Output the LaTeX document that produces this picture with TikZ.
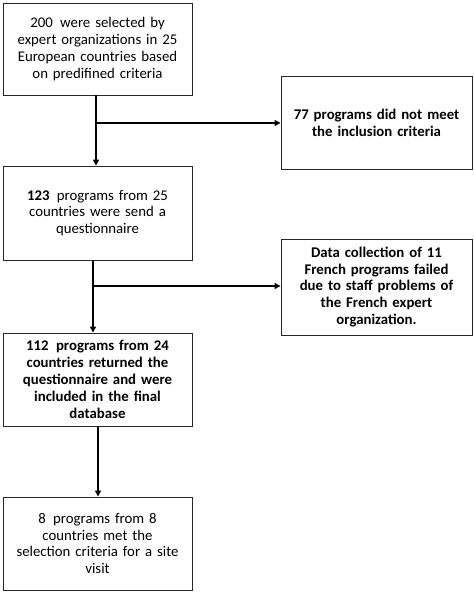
\documentclass[tikz,border=0pt]{standalone}
\usepackage{fontspec}
\setmainfont{Carlito}
\usetikzlibrary{arrows.meta}
\begin{document}
\begin{tikzpicture}[x=1pt,y=-1pt,
  box/.style={draw=black!85, line width=0.9pt, rectangle, align=center,
    minimum width=189pt, text width=187pt, inner sep=0pt,
    font=\fontsize{14.8}{16.8}\selectfont},
  sidebox/.style={box, minimum width=191pt},
  flow/.style={line width=1.4pt, -{Triangle[length=6pt,width=6pt]}}]
\useasboundingbox (0,0) rectangle (474,592);
\node[box, minimum height=92pt] (b1) at (97.5,49) {200\, were selected by\\expert organizations in 25\\European countries based\\on predifined criteria};
\node[sidebox, minimum height=93pt, font=\fontsize{14.8}{16.8}\selectfont\bfseries] (b77) at (376.5,122.5) {77 programs did not meet\\the inclusion criteria};
\node[box, minimum height=94pt] (b123) at (97.5,213) {\textbf{123}\, programs from 25\\countries were send a\\questionnaire};
\node[sidebox, minimum height=96pt, font=\fontsize{14.8}{16.8}\selectfont\bfseries] (bdc) at (376.5,287) {Data collection of 11\\French programs failed\\due to staff problems of\\the French expert\\organization.};
\node[box, minimum height=93pt, font=\fontsize{14.8}{16.8}\selectfont\bfseries] (b112) at (97.5,379.5) {112\, programs from 24\\countries returned the\\questionnaire and were\\included in the final\\database};
\node[box, minimum height=93pt] (b8) at (97.5,543.5) {8\, programs from 8\\countries met the\\selection criteria for a site\\visit};
\coordinate (j1) at (96,123);
\coordinate (j2) at (93,286);
\draw[flow] (b1.south -| j1) -- (b123.north -| j1);
\draw[flow] (j1) -- (j1 -| b77.west);
\draw[flow] (b123.south -| j2) -- (b112.north -| j2);
\draw[flow] (j2) -- (j2 -| bdc.west);
\draw[flow] ([xshift=0.5pt]b112.south) -- ([xshift=0.5pt]b8.north);
\end{tikzpicture}
\end{document}
